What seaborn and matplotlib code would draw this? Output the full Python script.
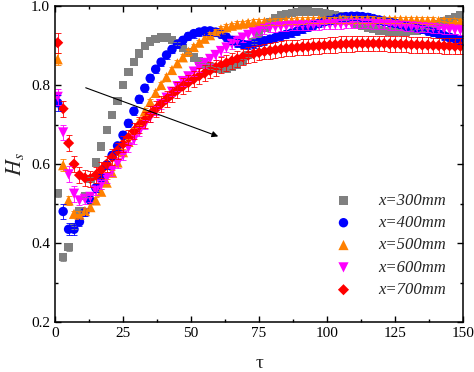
import matplotlib
matplotlib.use("Agg")
import matplotlib.pyplot as plt
import seaborn as sns
import numpy as np
from matplotlib.ticker import MultipleLocator

tau = [1, 3, 5, 7, 9, 11, 13, 15, 17, 19, 21, 23, 25, 27, 29, 31, 33, 35, 37, 39,
       41, 43, 45, 47, 49, 51, 53, 55, 57, 59, 61, 63, 65, 67, 69, 71, 73, 75, 77, 79,
       81, 83, 85, 87, 89, 91, 93, 95, 97, 99, 101, 103, 105, 107, 109, 111, 113, 115, 117, 119,
       121, 123, 125, 127, 129, 131, 133, 135, 137, 139, 141, 143, 145, 147, 149]

hs_300 = [0.527, 0.365, 0.390, 0.440, 0.480, 0.520, 0.562, 0.604, 0.644, 0.686,
          0.724, 0.760, 0.800, 0.833, 0.859, 0.880, 0.899, 0.910, 0.917, 0.920,
          0.920, 0.914, 0.905, 0.894, 0.882, 0.870, 0.860, 0.851, 0.845, 0.841,
          0.840, 0.842, 0.846, 0.852, 0.862, 0.876, 0.908, 0.925, 0.945, 0.958,
          0.968, 0.976, 0.980, 0.983, 0.985, 0.986, 0.986, 0.985, 0.984, 0.982,
          0.980, 0.977, 0.973, 0.968, 0.962, 0.956, 0.950, 0.945, 0.941, 0.938,
          0.936, 0.935, 0.934, 0.934, 0.935, 0.936, 0.938, 0.941, 0.945, 0.950,
          0.955, 0.961, 0.967, 0.972, 0.977]

hs_400 = [0.755, 0.480, 0.435, 0.435, 0.454, 0.478, 0.508, 0.540, 0.566, 0.598,
          0.622, 0.646, 0.673, 0.703, 0.734, 0.764, 0.792, 0.817, 0.840, 0.858,
          0.876, 0.890, 0.903, 0.913, 0.923, 0.930, 0.934, 0.937, 0.937, 0.934,
          0.929, 0.921, 0.913, 0.907, 0.903, 0.902, 0.904, 0.908, 0.912, 0.916,
          0.920, 0.924, 0.928, 0.932, 0.936, 0.941, 0.946, 0.951, 0.956, 0.961,
          0.965, 0.968, 0.971, 0.973, 0.974, 0.974, 0.973, 0.971, 0.968, 0.965,
          0.962, 0.959, 0.956, 0.953, 0.950, 0.947, 0.944, 0.941, 0.937, 0.933,
          0.929, 0.925, 0.921, 0.918, 0.915]

hs_500 = [0.865, 0.597, 0.508, 0.474, 0.472, 0.481, 0.491, 0.508, 0.530, 0.553,
          0.578, 0.604, 0.630, 0.656, 0.682, 0.707, 0.733, 0.757, 0.780, 0.800,
          0.820, 0.838, 0.855, 0.870, 0.884, 0.896, 0.907, 0.917, 0.926, 0.934,
          0.941, 0.946, 0.950, 0.953, 0.955, 0.957, 0.958, 0.959, 0.960, 0.960,
          0.961, 0.961, 0.962, 0.962, 0.963, 0.963, 0.964, 0.964, 0.965, 0.965,
          0.965, 0.965, 0.966, 0.966, 0.966, 0.966, 0.966, 0.966, 0.966, 0.965,
          0.965, 0.965, 0.965, 0.965, 0.964, 0.964, 0.964, 0.963, 0.963, 0.963,
          0.962, 0.962, 0.961, 0.961, 0.960]

hs_600 = [0.770, 0.680, 0.574, 0.525, 0.508, 0.512, 0.517, 0.533, 0.548, 0.565,
          0.583, 0.602, 0.622, 0.642, 0.662, 0.682, 0.700, 0.718, 0.735, 0.752,
          0.768, 0.783, 0.797, 0.810, 0.822, 0.834, 0.845, 0.856, 0.866, 0.876,
          0.886, 0.895, 0.904, 0.912, 0.920, 0.927, 0.933, 0.938, 0.942, 0.945,
          0.947, 0.948, 0.949, 0.950, 0.950, 0.951, 0.951, 0.952, 0.952, 0.953,
          0.953, 0.954, 0.954, 0.955, 0.955, 0.955, 0.955, 0.955, 0.954, 0.954,
          0.953, 0.952, 0.951, 0.950, 0.949, 0.948, 0.947, 0.946, 0.945, 0.944,
          0.943, 0.942, 0.941, 0.940, 0.939]

hs_700 = [0.907, 0.740, 0.653, 0.600, 0.572, 0.565, 0.563, 0.572, 0.585, 0.600,
          0.617, 0.634, 0.651, 0.667, 0.683, 0.698, 0.712, 0.726, 0.739, 0.752,
          0.764, 0.776, 0.787, 0.797, 0.806, 0.815, 0.823, 0.830, 0.837, 0.844,
          0.850, 0.856, 0.861, 0.866, 0.871, 0.875, 0.879, 0.882, 0.885, 0.887,
          0.889, 0.891, 0.893, 0.894, 0.895, 0.896, 0.897, 0.898, 0.899, 0.900,
          0.901, 0.902, 0.903, 0.904, 0.904, 0.905, 0.905, 0.905, 0.905, 0.905,
          0.905, 0.904, 0.904, 0.903, 0.903, 0.902, 0.902, 0.901, 0.901, 0.900,
          0.900, 0.899, 0.899, 0.898, 0.898]

# error bar half widths (rough reads)
err_300 = [0.01, 0.01, 0.01] + [0.004] * 72
err_400 = [0.02, 0.02, 0.015, 0.015] + [0.01] * 71
err_500 = [0.015, 0.015, 0.012] + [0.008] * 72
err_600 = [0.02, 0.02, 0.02, 0.02] + [0.012] * 71
err_700 = [0.025, 0.02, 0.02, 0.02] + [0.02] * 71

labels = ["x=300mm", "x=400mm", "x=500mm", "x=600mm", "x=700mm"]
series = [hs_300, hs_400, hs_500, hs_600, hs_700]
errors = [err_300, err_400, err_500, err_600, err_700]
colors = ["#808080", "#0000FF", "#FF8000", "#FF00FF", "#FF0000"]
markers = ["s", "o", "^", "v", "D"]
sizes = [36, 46, 54, 54, 32]

arrow_start = (11.3, 0.793)
arrow_end = (60.0, 0.670)

sns.set_theme(style="ticks")
plt.rcParams["font.family"] = ["Liberation Serif", "DejaVu Serif"]
plt.rcParams["mathtext.fontset"] = "stix"

fig = plt.figure(figsize=(4.74, 3.72), dpi=100)
ax = fig.add_axes([0.116, 0.134, 0.861, 0.850])

for y, e, c, m, s, lab in zip(series, errors, colors, markers, sizes, labels):
    ax.errorbar(tau, y, yerr=e, fmt="none", ecolor=c, elinewidth=0.6,
                capsize=2.2, capthick=0.6)
    sns.scatterplot(x=tau, y=y, ax=ax, marker=m, color=c, s=s,
                    edgecolor="none", linewidth=0, label=lab)

ax.annotate("", xy=arrow_end, xytext=arrow_start,
            arrowprops=dict(arrowstyle="-|>", color="black", lw=0.8,
                            mutation_scale=9, shrinkA=0, shrinkB=0))

ax.set_xlim(0, 150)
ax.set_ylim(0.2, 1.0)
ax.xaxis.set_major_locator(MultipleLocator(25))
ax.xaxis.set_minor_locator(MultipleLocator(12.5))
ax.yaxis.set_major_locator(MultipleLocator(0.2))
ax.yaxis.set_minor_locator(MultipleLocator(0.1))
ax.set_yticks([0.2, 0.4, 0.6, 0.8, 1.0], ["0.2", "0.4", "0.6", "0.8", "1.0"])

ax.tick_params(which="both", direction="in", top=True, right=True,
               labelsize=11, colors="black")
ax.tick_params(which="major", length=4, width=1)
ax.tick_params(which="minor", length=2.5, width=1)
for sp in ax.spines.values():
    sp.set_linewidth(1.1)
    sp.set_color("black")

ax.set_xlabel("τ", fontsize=14, labelpad=11)
ax.set_ylabel(r"$H_s$", fontsize=16, labelpad=4)

leg = ax.legend(loc="lower right", bbox_to_anchor=(0.975, 0.055), frameon=False,
                prop={"style": "italic", "size": 12}, labelspacing=0.38,
                handletextpad=1.1, markerscale=1.0, borderaxespad=0)

fig.savefig("out.png", dpi=100)
